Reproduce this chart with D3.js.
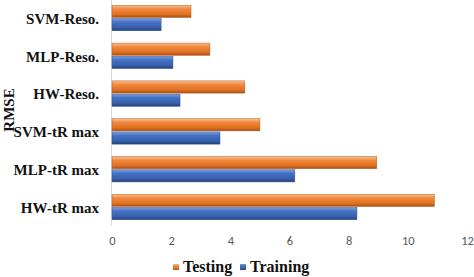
<!DOCTYPE html>
<html>
<head>
<meta charset="utf-8">
<script src="https://cdn.jsdelivr.net/npm/d3@7"></script>
<style>
  body { margin: 0; background: #fff; }
  svg { display: block; }
</style>
</head>
<body>
<svg id="chart" width="474" height="277"></svg>
<script>
// data
var categories = ["SVM-Reso.", "MLP-Reso.", "HW-Reso.", "SVM-tR max", "MLP-tR max", "HW-tR max"];
var testing = [2.67, 3.31, 4.49, 5.0, 8.95, 10.9];
var training = [1.66, 2.06, 2.3, 3.65, 6.18, 8.28];
var seriesNames = ["Testing", "Training"];
var xTicks = [0, 2, 4, 6, 8, 10, 12];

var svg = d3.select("#chart");
// note: "top" is taken by window.top, so plot edges get their own names
var plotL = 112, plotR = 467, plotT = 0, plotB = 226;

var x = d3.scaleLinear().domain([0, 12]).range([plotL, plotR]);
var y = d3.scaleBand().domain(categories).range([plotT, plotB]).paddingInner(0.3).paddingOuter(0.14);
var sub = d3.scaleBand().domain(seriesNames).range([0, y.bandwidth()]);

// gradients for the bevelled bars
var defs = svg.append("defs");
function grad(id, stops) {
    var g = defs.append("linearGradient").attr("id", id)
        .attr("x1", 0).attr("y1", 0).attr("x2", 0).attr("y2", 1);
    stops.forEach(function(s) {
        g.append("stop").attr("offset", s[0]).attr("stop-color", s[1]);
    });
}
grad("gOrange", [[0, "#f8c092"], [0.3, "#f08a40"], [0.75, "#e0701f"], [1, "#a54f14"]]);
grad("gBlue", [[0, "#7d9edb"], [0.3, "#4472c4"], [0.75, "#3860aa"], [1, "#223f78"]]);

var colors = { Testing: "url(#gOrange)", Training: "url(#gBlue)" };
var flat = { Testing: "#ed7d31", Training: "#4472c4" };

// y axis line
svg.append("line")
    .attr("x1", plotL - 0.5).attr("x2", plotL - 0.5)
    .attr("y1", plotT).attr("y2", plotB)
    .attr("stroke", "#d9d9d9").attr("stroke-width", 1);

var rows = categories.map(function(c, i) {
    return { cat: c, vals: [{ s: "Testing", v: testing[i] }, { s: "Training", v: training[i] }] };
});

var g = svg.selectAll("g.row").data(rows).enter().append("g")
    .attr("class", "row")
    .attr("transform", function(d) { return "translate(0," + y(d.cat) + ")"; });

g.selectAll("rect.bar").data(function(d) { return d.vals; }).enter().append("rect")
    .attr("class", "bar")
    .attr("x", x(0))
    .attr("y", function(d) { return sub(d.s); })
    .attr("width", function(d) { return x(d.v) - x(0); })
    .attr("height", sub.bandwidth() - 1)
    .attr("fill", function(d) { return colors[d.s]; })
    .attr("stroke", function(d) { return d3.color(flat[d.s]).darker(0.8); })
    .attr("stroke-width", 0.5);

// category labels
svg.selectAll("text.cat").data(categories).enter().append("text")
    .attr("class", "cat")
    .attr("x", 99)
    .attr("y", function(d) { return y(d) + y.bandwidth() / 2; })
    .attr("dy", "0.35em")
    .attr("text-anchor", "end")
    .attr("font-family", "Liberation Serif, Times New Roman, serif")
    .attr("font-weight", "bold")
    .attr("font-size", 15)
    .attr("fill", "#111")
    .text(function(d) { return d; });

// x axis ticks
svg.append("g")
    .attr("transform", "translate(0," + plotB + ")")
    .call(d3.axisBottom(x).tickValues(xTicks).tickSize(0).tickPadding(10))
    .call(function(a) { a.select(".domain").remove(); })
    .selectAll("text")
    .attr("font-family", "Carlito, Liberation Sans, sans-serif")
    .attr("font-size", 12.5)
    .attr("fill", "#595959");

// y title
svg.append("text")
    .attr("transform", "translate(14,110) rotate(-90)")
    .attr("text-anchor", "middle")
    .attr("font-family", "Liberation Serif, Times New Roman, serif")
    .attr("font-weight", "bold")
    .attr("font-size", 15)
    .attr("fill", "#111")
    .text("RMSE");

// legend
var legX = [173, 240];
var leg = svg.selectAll("g.leg").data(seriesNames).enter().append("g")
    .attr("class", "leg")
    .attr("transform", function(d, i) { return "translate(" + legX[i] + ",264)"; });
leg.append("rect").attr("width", 6).attr("height", 6)
    .attr("fill", function(d) { return colors[d]; });
leg.append("text")
    .attr("x", 10).attr("y", 8)
    .attr("font-family", "Liberation Serif, Times New Roman, serif")
    .attr("font-weight", "bold")
    .attr("font-size", 16)
    .attr("fill", "#111")
    .text(function(d) { return d; });
</script>
</body>
</html>
